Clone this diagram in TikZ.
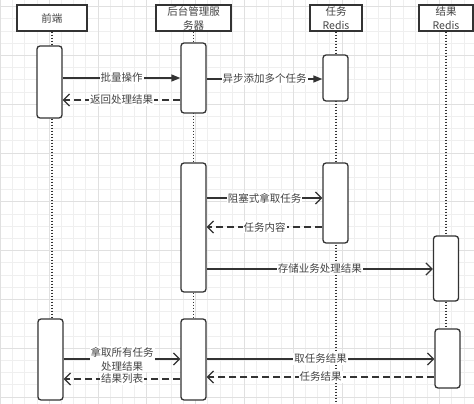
\documentclass[tikz,border=0pt]{standalone}
\usepackage{fontspec}
\setmainfont{Noto Sans CJK SC}
\usetikzlibrary{arrows.meta}
\definecolor{ink}{HTML}{333333}
\definecolor{txt}{HTML}{444444}
\definecolor{gridminor}{HTML}{EFEFEF}
\definecolor{gridmajor}{HTML}{E0E0E0}
\pgfdeclarelayer{bg}
\pgfsetlayers{bg,main}

\begin{document}
\begin{tikzpicture}[x=1pt, y=-1pt,
        head/.style={draw=ink, line width=1.3pt, fill=white, minimum height=26pt,
            inner sep=0pt, align=center, text=txt, font=\fontsize{10.5}{14}\selectfont},
        act/.style={draw=ink, line width=1.3pt, fill=white, rounded corners=3pt,
            minimum width=25pt, inner sep=0pt},
        life/.style={ink, line width=1.5pt, dash pattern=on 1.5pt off 1.5pt},
        call/.style={ink, line width=1.3pt, -{Triangle[length=9pt,width=7pt]}},
        msg/.style={ink, line width=1.3pt, -{Straight Barb[length=6pt,width=12pt]}},
        ret/.style={msg, dash pattern=on 7pt off 4pt},
        lbl/.style={fill=white, inner sep=1pt, text=txt, align=center,
            font=\fontsize{10.5}{14}\selectfont}]
        \useasboundingbox (0,0) rectangle (474,404);

        % headers
        \node[head, minimum width=70pt] (front) at (52,18) {前端};
        \node[head, minimum width=75pt] (server) at (193.5,18) {后台管理服\\务器};
        \node[head, minimum width=52pt] (task) at (336,18) {任务\\Redis};
        \node[head, minimum width=54pt] (result) at (446,18) {结果\\Redis};

        % activations
        \node[act, minimum height=72pt] (fa1) at (49.5,82) {};
        \node[act, minimum height=70pt] (sa1) at (193.5,78) {};
        \node[act, minimum height=46pt] (ta1) at (335.5,78) {};
        \node[act, minimum height=129pt] (sa2) at (193.5,227.5) {};
        \node[act, minimum height=80pt] (ta2) at (335.5,203) {};
        \node[act, minimum height=65pt] (ra1) at (446,268.5) {};
        \node[act, minimum height=81pt] (fa2) at (50.5,359.5) {};
        \node[act, minimum height=81pt] (sa3) at (193.5,359.5) {};
        \node[act, minimum height=59pt] (ra2) at (447.5,358.5) {};
        \coordinate (taskend) at (336,404);

        \begin{pgfonlayer}{bg}
            \fill[white] (0,0) rectangle (474,404);
            \foreach \i in {0,...,38}
                \draw[gridminor, line width=0.8pt] (0.4+12.2*\i,0) -- (0.4+12.2*\i,404);
            \foreach \j in {0,...,32}
                \draw[gridminor, line width=0.8pt] (0,6.6+12.2*\j) -- (474,6.6+12.2*\j);
            \foreach \i in {0,...,9}
                \draw[gridmajor, line width=0.8pt] (0.4+48.8*\i,0) -- (0.4+48.8*\i,404);
            \foreach \j in {0,...,8}
                \draw[gridmajor, line width=0.8pt] (0,6.6+48.8*\j) -- (474,6.6+48.8*\j);

            % lifelines
            \draw[life] (front.south) -- (front.south |- fa2.north);
            \draw[life] (server.south) -- (sa3.north);
            \draw[life] (task.south) -- (taskend);
            \draw[life] (result.south) -- (result.south |- ra2.north);
        \end{pgfonlayer}

        \draw
            (fa1.east |- 0,78) edge[call] node[lbl] {批量操作} (sa1.west |- 0,78)
            (sa1.west |- 0,100) edge[ret] node[lbl] {返回处理结果} (fa1.east |- 0,100)
            (sa1.east |- 0,79) edge[call] node[lbl] {异步添加多个任务} (ta1.west |- 0,79)

            (sa2.east |- 0,198) edge[msg] node[lbl] {阻塞式拿取任务} (ta2.west |- 0,198)
            (ta2.west |- 0,227) edge[ret] node[lbl] {任务内容} (sa2.east |- 0,227)
            (sa2.east |- 0,269) edge[msg] node[lbl] {存储业务处理结果} (ra1.west |- 0,269)

            (fa2.east |- 0,359) edge[msg] node[lbl] {拿取所有任务\\处理结果} (sa3.west |- 0,359)
            (sa3.west |- 0,379) edge[ret] node[lbl] {结果列表} (fa2.east |- 0,379)
            (sa3.east |- 0,359) edge[msg] node[lbl] {取任务结果} (ra2.west |- 0,359)
            (ra2.west |- 0,377) edge[ret] node[lbl] {任务结果} (sa3.east |- 0,377);
    \end{tikzpicture}
\end{document}
